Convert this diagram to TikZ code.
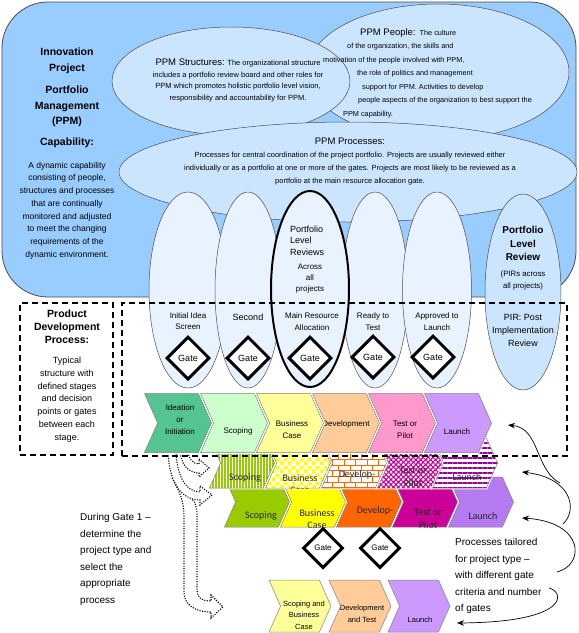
\documentclass[tikz,border=0pt]{standalone}
\usepackage{fontspec}
\setmainfont{Liberation Sans}
\newfontfamily\calfont{Carlito}
\usepackage{tikz}
\usetikzlibrary{shapes,positioning,arrows.meta,calc,patterns,patterns.meta}
\definecolor{ipmbg}{RGB}{153,204,255}
\definecolor{ppmlt}{RGB}{204,229,255}
\definecolor{gtlt}{RGB}{232,243,255}
\definecolor{cidea}{RGB}{84,196,144}
\definecolor{cscop}{RGB}{204,255,204}
\definecolor{cbcas}{RGB}{255,255,153}
\definecolor{cdevl}{RGB}{255,204,153}
\definecolor{ctest}{RGB}{255,153,204}
\definecolor{clnch}{RGB}{204,153,255}
\definecolor{dscop}{RGB}{153,204,0}
\definecolor{dbcas}{RGB}{255,255,0}
\definecolor{ddevl}{RGB}{255,102,0}
\definecolor{dtest}{RGB}{204,0,153}
\definecolor{dlnch}{RGB}{181,122,240}
\definecolor{plnch}{RGB}{153,0,153}
\pgfdeclarepatternformonly{bigchecker}{\pgfqpoint{0pt}{0pt}}{\pgfqpoint{8pt}{8pt}}{\pgfqpoint{8pt}{8pt}}{%
	\pgfpathrectangle{\pgfqpoint{0pt}{0pt}}{\pgfqpoint{4pt}{4pt}}%
	\pgfpathrectangle{\pgfqpoint{4pt}{4pt}}{\pgfqpoint{4pt}{4pt}}%
	\pgfusepath{fill}}
\tikzset{
	every node/.style = { align = center, inner sep = 0pt },
	ppm/.style = { ellipse, draw=black!70, line width=0.5pt, fill=ppmlt },
	lvl/.style = { ellipse, draw=black!70, line width=0.5pt, fill=gtlt, minimum height=196pt },
	gate/.style = { diamond, draw, line width=3pt, fill=white, minimum width=43pt, minimum height=43pt, font=\fontsize{9}{10}\selectfont },
	sgate/.style = { gate, minimum width=40pt, minimum height=40pt, font=\fontsize{8}{9}\selectfont },
	ttl/.style = { font=\fontsize{10.5}{15.5}\selectfont\bfseries },
	dsc/.style = { font=\fontsize{8.5}{12.7}\selectfont },
	sm/.style = { font=\fontsize{7.5}{11.7}\selectfont },
	lab/.style = { font=\fontsize{8}{11.5}\selectfont },
	note/.style = { font=\fontsize{10}{16.6}\selectfont, align=left, anchor=north west },
	pbox/.style = { draw, line width=1.8pt, dash pattern=on 6pt off 4pt },
	chev/.style = { signal, signal from=west, signal to=east, signal pointer angle=132, draw=black!50, line width=0.5pt, preaction={draw=white, line width=2.5pt} },
	row1/.style = { chev, minimum width=67pt, minimum height=59pt },
	row2/.style = { chev, minimum width=65pt, minimum height=50pt, preaction={fill=white} },
	row3/.style = { chev, minimum width=65pt, minimum height=50pt },
	row4/.style = { chev, minimum width=62pt, minimum height=52pt },
	l1/.style = { font=\fontsize{8}{12}\selectfont },
	l3/.style = { font=\calfont\fontsize{10}{12.5}\selectfont, text=black!85 },
	l4/.style = { font=\fontsize{7.5}{11.5}\selectfont },
	lbl/.style n args = {3}{ path picture={\node[rectangle, #1] at ($(path picture bounding box.center)+(#2)$) {#3};} },
	blk/.style = { draw, line width=1.1pt, dash pattern=on 1.1pt off 1.4pt },
	crv/.style = { ->, line width=0.7pt },
}

\begin{document}
\begin{tikzpicture}[x=1pt, y=-1pt, >={Stealth[length=7pt,width=5.5pt]}]
\useasboundingbox (0,0) rectangle (579,633);

% capability frame
\node (ipm) [rectangle, rounded corners=46pt, draw=black!70, line width=0.8pt, fill=ipmbg, minimum width=574pt, minimum height=295pt] at (289,149.5) {};

\node (ppl) [ppm, minimum width=262pt, minimum height=136pt] at (438,72) {};
\node (str) [ppm, minimum width=238pt, minimum height=108pt] at (231,81) {};
\node (prc) [ppm, minimum width=458pt, minimum height=100pt] at (348,172) {};

\node (pplt) [sm, align=left, anchor=north west, font=\fontsize{7.3}{13.5}\selectfont] at (323,28) {\hspace*{37pt}{\fontsize{9.5}{13.5}\selectfont PPM People:}\ \ The culture\\
\hspace*{24pt}of the organization, the skills and\\
motivation of the people involved with PPM,\\
\hspace*{34pt}the role of politics and management\\
\hspace*{39pt}support for PPM. Activities to develop\\
\hspace*{35pt}people aspects of the organization to best support the\\
\hspace*{20pt}PPM capability.};
\node (strt) [sm] at (238,80.5) {{\fontsize{9.5}{11.7}\selectfont PPM Structures:} The organizational structure\\
includes a portfolio review board and other roles for\\
PPM which promotes holistic portfolio level vision,\\
responsibility and accountability for PPM.};
\node (prct) [sm, font=\fontsize{7.5}{13}\selectfont] at (350,161.5) {{\fontsize{9.5}{13}\selectfont PPM Processes:}\\
Processes for central coordination of the project portfolio. Projects are usually reviewed either\\
individually or as a portfolio at one or more of the gates. Projects are most likely to be reviewed as a\\
portfolio at the main resource allocation gate.};

% review ellipses
\node (scr) [lvl, minimum width=78pt] at (188,290) {};
\node (sec) [lvl, minimum width=66pt] at (248,290) {};
\node (rdy) [lvl, minimum width=66pt] at (375,290) {};
\node (apr) [lvl, minimum width=69pt] at (437,290) {};
\node (pir) [lvl, minimum width=76pt, fill=ppmlt] at (523,292) {};
\node (alc) [lvl, minimum width=78pt, line width=2pt, draw=black] at (310,289) {};

\node (alch) [font=\fontsize{9}{11.5}\selectfont, align=left, anchor=west] at (290,240.5) {Portfolio\\Level\\Reviews};
\node (alcd) [lab, font=\fontsize{8}{11}\selectfont] at (310,279) {Across\\all\\projects};
\node (pirh) [font=\fontsize{10}{13.5}\selectfont\bfseries] at (523,243.5) {Portfolio\\Level\\Review};
\node (pird) [font=\fontsize{7.8}{12}\selectfont] at (523,280) {(PIRs across\\all projects)};

\node (scrt) [lab] at (188,321) {Initial Idea\\Screen};
\node (sect) [font=\fontsize{9}{11}\selectfont] at (248,317) {Second};
\node (alct) [lab] at (312,321.5) {Main Resource\\Allocation};
\node (rdyt) [lab] at (373,321.5) {Ready to\\Test};
\node (aprt) [lab] at (437,321.5) {Approved to\\Launch};
\node (pirt) [font=\fontsize{9}{13}\selectfont] at (523,330) {PIR: Post\\Implementation\\Review};

% capability description
\node (ttl1) [ttl, font=\fontsize{10.5}{16}\selectfont\bfseries] at (67,61) {Innovation\\Project};
\node (ttl2) [ttl] at (67,106.5) {Portfolio\\Management\\(PPM)};
\node (ttl3) [ttl] at (67,143) {Capability:};
\node (capd) [dsc] at (67,210.5) {A dynamic capability\\consisting of people,\\structures and processes\\that are continually\\monitored and adjusted\\to meet the changing\\requirements of the\\dynamic environment.};

% gates
\node (gt1) [gate] at (188,358) {Gate};
\node (gt2) [gate] at (248,358) {Gate};
\node (gt3) [gate] at (310,358) {Gate};
\node (gt4) [gate] at (373,357) {Gate};
\node (gt5) [gate] at (433,357) {Gate};

% tailored rows
\node (sc3) [row3, fill=dscop, lbl={l3}{4,14}{Scoping}] at (257,502) {};
\node (bc3) [row3, fill=dbcas, lbl={l3}{4,17}{Business\\Case}] at (313,502) {};
\node (dv3) [row3, fill=ddevl, lbl={l3}{6,9}{Develop-}] at (369,502) {};
\node (tp3) [row3, fill=dtest, lbl={l3}{3,17}{Test or\\Pilot}] at (425,502) {};
\node (la3) [row3, fill=dlnch, lbl={l3}{2,14}{Launch}] at (481,502) {};

\node (sc2) [row2, pattern={Lines[angle=90,distance=3pt,line width=1.5pt]}, pattern color=dscop, lbl={l3}{3,15}{Scoping}] at (242,463) {};
\node (bc2) [row2, pattern=bigchecker, pattern color=dbcas, lbl={l3}{2,21}{Business\\Case}] at (298,463) {};
\node (dv2) [row2, pattern=bricks, pattern color=ddevl, lbl={l3}{3,12}{Develop-}] at (354,463) {};
\node (tp2) [row2, pattern={Hatch[angle=45,distance=3.5pt,line width=1.1pt]}, pattern color=dtest, lbl={l3}{3,14}{Test or\\Pilot}] at (410,463) {};
\node (la2) [row2, pattern={Lines[angle=0,distance=5pt,line width=2.5pt]}, pattern color=plnch, lbl={l3}{2,14}{Launch}] at (465,463) {};

% selection arrows
\draw[blk] (180,448) .. controls (180,464) and (188,473) .. (199,473) -- (199,477) -- (209,468) -- (199,459) -- (199,464) .. controls (192,464) and (188,458) .. (188,448);
\draw[blk] (168,448) .. controls (168,480) and (180,500) .. (200,500) -- (200,505) -- (212,495) -- (200,486) -- (200,492) .. controls (186,492) and (176,476) .. (176,448);
\draw[blk] (172,478) .. controls (180,492) and (184,502) .. (184,516) -- (184,592) .. controls (184,604) and (194,612) .. (211,612) -- (211,618) -- (223,607) -- (211,595) -- (211,601) .. controls (201,601) and (197,597) .. (197,590) -- (197,515) .. controls (197,506) and (195,502) .. (192,499);

% typical process
\node (idea) [row1, fill=cidea, lbl={l1}{2,-3}{Ideation\\or\\Initiation}] at (178,423) {};
\node (scop) [row1, fill=cscop, lbl={l1}{4,8}{Scoping}] at (234,423) {};
\node (bcas) [row1, fill=cbcas, lbl={l1}{2,7}{Business\\Case}] at (290,423) {};
\node (devl) [row1, fill=cdevl, lbl={l1}{0,1}{Development}] at (346,423) {};
\node (test) [row1, fill=ctest, lbl={l1}{3,7}{Test or\\Pilot}] at (402,423) {};
\node (lnch) [row1, fill=clnch, lbl={l1}{-1,9}{Launch}] at (458,423) {};

\node (pdpbox) [pbox, minimum width=93pt, minimum height=152pt] at (66.5,379) {};
\node (selbox) [pbox, minimum width=445pt, minimum height=153pt] at (344.5,379.5) {};
\node (pdph) [ttl, font=\fontsize{10.5}{13}\selectfont\bfseries] at (67,327) {Product\\Development\\Process:};
\node (pdpd) [font=\fontsize{9}{12.8}\selectfont] at (67,399.5) {Typical\\structure with\\defined stages\\and decision\\points or gates\\between each\\stage.};

% short process
\node (gt6) [sgate] at (323,548) {Gate};
\node (gt7) [sgate] at (380,548) {Gate};
\node (sbc4) [row4, fill=cbcas, lbl={l4}{4,9}{Scoping and\\Business\\Case}] at (300,606) {};
\node (dt4) [row4, fill=cdevl, lbl={l4}{2,8}{Development\\and Test}] at (360,606) {};
\node (la4) [row4, fill=clnch, lbl={l4}{1,14}{Launch}] at (419,606) {};

\node (selt) [note] at (80,513) {During Gate 1 --\\determine the\\project type and\\select the\\appropriate\\process};
\node (tlrt) [note] at (455,538) {Processes tailored\\for project type --\\with different gate\\criteria and number\\of gates};

\coordinate (fra) at (557,572);
\coordinate (frb) at (563,524);
\coordinate (frc) at (560,483);
\coordinate (frd) at (549,588);
\coordinate (to1) at (508,425);
\coordinate (to2) at (522,472);
\coordinate (to3) at (522,518);
\coordinate (to4) at (457,623);
\draw[crv] (fra) .. controls (585,565) and (585,522) .. (to3);
\draw[crv] (frb) .. controls (578,510) and (572,478) .. (to2);
\draw[crv] (frc) .. controls (535,470) and (540,428) .. (to1);
\draw[crv] (frd) .. controls (565,592) and (570,622) .. (to4);

\end{tikzpicture}
\end{document}
